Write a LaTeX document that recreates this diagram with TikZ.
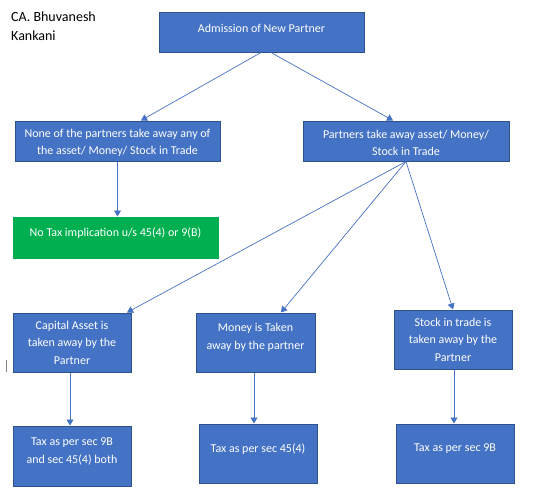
\documentclass[tikz,border=0pt]{standalone}
\usepackage{fontspec}
\setmainfont{Carlito}
\usetikzlibrary{arrows.meta}
\definecolor{boxblue}{HTML}{4472C4}
\definecolor{boxedge}{HTML}{2F528F}
\definecolor{boxgreen}{HTML}{00B050}
\begin{document}
\begin{tikzpicture}[x=1pt,y=-1pt,
  box/.style={draw=boxedge,line width=1pt,fill=boxblue,text=white,align=center,
    inner sep=0pt,font=\fontsize{12}{17.5}\selectfont},
  gbox/.style={box,fill=boxgreen,draw=boxgreen},
  lbl/.style={text=white,align=center,font=\fontsize{12}{17.5}\selectfont},
  conn/.style={draw=boxblue,line width=0.7pt,-{Triangle[length=6pt,width=7pt]}}]
\useasboundingbox (0,0) rectangle (558,496);
\node[anchor=north west,align=left,font=\fontsize{14}{19}\selectfont,inner sep=0pt] (author) at (11,12) {CA. Bhuvanesh\\Kankani};
\node[box,minimum width=205pt,minimum height=40pt,label={[lbl,yshift=4pt]center:Admission of New Partner}] (top) at (261.5,32) {};
\node[box,minimum width=205pt,minimum height=40pt,label={[lbl,yshift=-2pt]center:{None of the partners take away any of\\the asset/ Money/ Stock in Trade}}] (left) at (117.5,141) {};
\node[box,minimum width=206pt,minimum height=40pt,label={[lbl,yshift=-2pt]center:{Partners take away asset/ Money/\\Stock in Trade}}] (right) at (406,141) {};
\node[gbox,minimum width=205pt,minimum height=41pt,label={[lbl,yshift=4.5pt]center:No Tax implication u/s 45(4) or 9(B)}] (green) at (115.5,237.5) {};
\node[box,minimum width=118pt,minimum height=59pt,label={[lbl]center:{Capital Asset is\\taken away by the\\Partner}}] (capital) at (72,342.5) {};
\node[box,minimum width=119pt,minimum height=59pt,label={[lbl,yshift=5pt]center:{Money is Taken\\away by the partner}}] (money) at (255.5,342.5) {};
\node[box,minimum width=118pt,minimum height=59pt,label={[lbl]center:{Stock in trade is\\taken away by the\\Partner}}] (stock) at (453,339.5) {};
\node[box,minimum width=118pt,minimum height=60pt,label={[lbl,yshift=4.5pt]center:{Tax as per sec 9B\\and sec 45(4) both}}] (tax1) at (72,456) {};
\node[box,minimum width=118pt,minimum height=59pt,label={[lbl,yshift=4.5pt]center:Tax as per sec 45(4)}] (tax2) at (258,453.5) {};
\node[box,minimum width=118pt,minimum height=59pt,label={[lbl,yshift=4.5pt]center:Tax as per sec 9B}] (tax3) at (455,453.5) {};
\draw[conn] ([xshift=-0.5pt]top.south) -- ([xshift=23.5pt]left.north);
\draw[conn] ([xshift=9.5pt]top.south) -- ([xshift=-13pt]right.north);
\draw[conn] (left.south) -- (left.south |- green.north);
\draw[conn] (right.south) -- ([xshift=55pt]capital.north);
\draw[conn] (right.south) -- ([xshift=25.5pt]money.north);
\draw[conn] (right.south) -- (stock.north);
\draw[conn] ([xshift=-2pt]capital.south) -- ([xshift=-2pt]tax1.north);
\draw[conn] ([xshift=-1.5pt]money.south) -- ([xshift=-1.5pt]money.south |- tax2.north);
\draw[conn] ([xshift=1pt]stock.south) -- ([xshift=1pt]stock.south |- tax3.north);
\draw[gray,line width=0.6pt] (6.5,360) -- (6.5,372);
\end{tikzpicture}
\end{document}
